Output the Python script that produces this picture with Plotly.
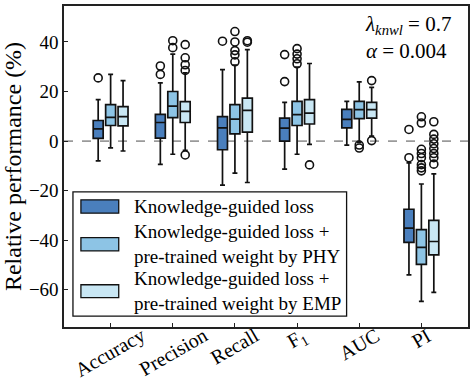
import plotly.graph_objects as go

# ---------------- data ----------------
categories = ["Accuracy", "Precision", "Recall", "F<sub>1</sub>", "AUC", "PI"]
series_names = [
    "Knowledge-guided loss",
    "Knowledge-guided loss +<br>pre-trained weight by PHY",
    "Knowledge-guided loss +<br>pre-trained weight by EMP",
]

# Series 1: Knowledge-guided loss
s1_q1 = [1.1, 1.2, -3.5, 0.0, 5.3, -40.9]
s1_med = [4.9, 7.5, 5.3, 5.2, 8.8, -35.1]
s1_q3 = [8.3, 10.8, 9.9, 9.3, 12.8, -27.5]
s1_lo = [-8.0, -9.4, -17.8, -11.3, -1.6, -54.0]
s1_hi = [16.7, 23.5, 28.8, 15.6, 16.0, -8.8]
s1_out = [[25.5], [26.9, 30.3], [40.3], [24.0, 34.9], [], [4.7, -6.7]]

# Series 2: + pre-trained weight by PHY
s2_q1 = [6.3, 9.5, 2.9, 6.3, 9.1, -49.7]
s2_med = [9.6, 14.1, 8.9, 10.7, 12.7, -42.9]
s2_q3 = [14.7, 20.0, 14.7, 16.0, 16.0, -35.7]
s2_lo = [-2.7, -5.3, -12.9, -5.3, -0.5, -64.7]
s2_hi = [26.9, 35.1, 30.7, 29.9, 23.9, -17.3]
s2_out = [[], [37.7, 40.5], [32.0, 34.8, 36.5, 40.0, 44.2],
          [31.2, 33.2, 35.1, 37.3], [-1.6, -2.8],
          [9.8, 7.3, -3.3, -5.0, -6.7, -9.5, -10.8, -12.0]]

# Series 3: + pre-trained weight by EMP
s3_q1 = [6.1, 7.5, 3.6, 6.9, 9.3, -45.9]
s3_med = [9.9, 12.0, 12.4, 11.3, 12.7, -40.5]
s3_q3 = [13.9, 15.9, 17.3, 16.7, 15.6, -32.0]
s3_lo = [-4.0, -3.7, -16.7, -1.3, 2.0, -61.0]
s3_hi = [24.4, 27.5, 36.9, 31.3, 21.7, -13.2]
s3_out = [[], [28.5, 30.8, 33.6, 38.9, -5.6], [39.9, 40.5], [-9.6], [24.4, 0.2],
          [7.8, 2.7, 0.8, -1.1, -3.0, -5.0, -6.7, -9.3]]

y_ticks = [-60, -40, -20, 0, 20, 40]
annotation_text = "<i>λ</i><sub><i>knwl</i></sub> = 0.7<br><i>α</i> = 0.004"

# ---------------- style ----------------
FONT = "Liberation Serif, Times New Roman, serif"
colors = ["#4a7fbd", "#8dc4e5", "#c9e7f4"]
offsets = [-0.2, 0.0, 0.2]
box_w = 0.16

W, H = 474, 381
L, R, T, B = 64, 4, 4, 54
PW, PH = W - L - R, H - T - B


def px_x(p):
    return (p - L) / PW


def px_y(p):
    return (H - B - p) / PH


series = [
    (s1_q1, s1_med, s1_q3, s1_lo, s1_hi, s1_out),
    (s2_q1, s2_med, s2_q3, s2_lo, s2_hi, s2_out),
    (s3_q1, s3_med, s3_q3, s3_lo, s3_hi, s3_out),
]

fig = go.Figure()
for k, (q1, med, q3, lo, hi, outs) in enumerate(series):
    xs = [i + offsets[k] for i in range(len(categories))]
    fig.add_trace(go.Box(
        x=xs, q1=q1, median=med, q3=q3, lowerfence=lo, upperfence=hi,
        width=box_w, whiskerwidth=0.5, boxpoints=False,
        fillcolor=colors[k], line=dict(color="#111111", width=1.7),
        name=series_names[k], showlegend=False, hoverinfo="skip",
    ))
    ox, oy = [], []
    for i, lst in enumerate(outs):
        for v in lst:
            ox.append(i + offsets[k])
            oy.append(v)
    fig.add_trace(go.Scatter(
        x=ox, y=oy, mode="markers", showlegend=False, hoverinfo="skip",
        marker=dict(symbol="circle-open", size=8, color="#111111",
                    line=dict(width=1.6)),
    ))

shapes = [
    dict(type="line", xref="paper", yref="y", x0=0, x1=1, y0=0, y1=0,
         line=dict(color="#9a9a9a", width=1.6, dash="dash"), layer="below"),
    # legend frame
    dict(type="rect", xref="paper", yref="paper",
         x0=px_x(73), x1=px_x(348), y0=px_y(316), y1=px_y(191),
         line=dict(color="#111111", width=1.3), fillcolor="white"),
]
patch_y = [(199, 212.5), (237, 250.5), (284.5, 297.5)]
annotations = []
for k, (a, b) in enumerate(patch_y):
    shapes.append(dict(type="rect", xref="paper", yref="paper",
                       x0=px_x(81), x1=px_x(119), y0=px_y(b), y1=px_y(a),
                       line=dict(color="#111111", width=1.3),
                       fillcolor=colors[k]))
    annotations.append(dict(
        xref="paper", yref="paper", x=px_x(132), y=px_y((a + b) / 2),
        xanchor="left", yanchor="middle", align="left", showarrow=False,
        text=series_names[k], font=dict(family=FONT, size=19, color="black")))

for i, c in enumerate(categories):
    annotations.append(dict(
        xref="x", yref="paper", x=i, y=0, yshift=6, xanchor="center",
        yanchor="top", textangle=-30, showarrow=False, text=c,
        font=dict(family=FONT, size=20, color="black")))

annotations.append(dict(
    xref="paper", yref="paper", x=px_x(364), y=px_y(8), xanchor="left",
    yanchor="top", align="left", showarrow=False, text=annotation_text,
    font=dict(family=FONT, size=21, color="black")))

fig.update_layout(
    width=W, height=H, margin=dict(l=L, r=R, t=T, b=B),
    paper_bgcolor="white", plot_bgcolor="white",
    font=dict(family=FONT, size=18, color="black"),
    shapes=shapes, annotations=annotations, showlegend=False,
)
fig.update_xaxes(range=[-0.75, 5.75], tickvals=list(range(len(categories))),
                 showticklabels=False, ticks="inside", ticklen=4,
                 tickcolor="#222222", showline=True, linecolor="#222222",
                 linewidth=1.6, mirror=True, showgrid=False, zeroline=False)
fig.update_yaxes(range=[-75, 54.5], tickvals=y_ticks, ticks="inside",
                 ticklen=4, tickcolor="#222222", showline=True,
                 linecolor="#222222", linewidth=1.6, mirror=True,
                 showgrid=False, zeroline=False,
                 tickfont=dict(family=FONT, size=19),
                 title=dict(text="Relative performance (%)",
                            font=dict(family=FONT, size=24), standoff=3))

fig.write_html("out.html",
               config={"displayModeBar": False, "staticPlot": True},
               post_script="document.body.style.margin='0';")
